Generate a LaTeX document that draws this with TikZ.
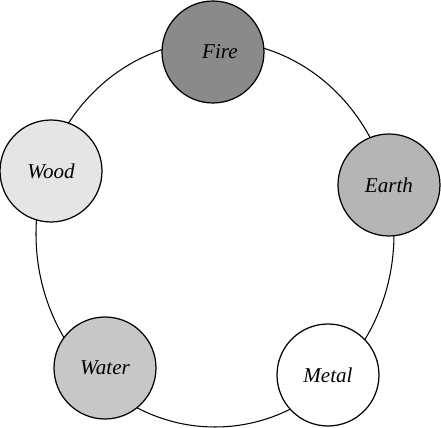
\documentclass[tikz,border=0pt]{standalone}
\usepackage{fontspec}
\setmainfont{Liberation Serif}
\usetikzlibrary{positioning}

\definecolor{firegray}{gray}{0.54}
\definecolor{earthgray}{gray}{0.71}
\definecolor{watergray}{gray}{0.78}
\definecolor{woodgray}{gray}{0.90}

\begin{document}
\begin{tikzpicture}[
		x=0.02cm, y=-0.02cm,
		element/.style={circle, draw, line width=0.7pt, inner sep=0pt, minimum size=2.04cm, font=\fontsize{12}{14}\selectfont\itshape},
		ring/.style={draw, line width=0.6pt}
	]

	\useasboundingbox (0,0) rectangle (441,428);

	\coordinate (centre) at (215,234);
	\draw[ring] (centre) ellipse [x radius=179, y radius=193];

	% the five elements, clockwise from the top
	\foreach \name/\pos/\shade/\dx/\txt in {fire/{(213,52)}/firegray/0.28/Fire, earth/{(389,185)}/earthgray/0/Earth, metal/{(328,375)}/white/0/Metal, water/{(105,368)}/watergray/0/Water, wood/{(51,171)}/woodgray/0/Wood}
		\node[element, fill=\shade] (\name) at \pos {\hspace*{\dx cm}\txt};

	\end{tikzpicture}
\end{document}
